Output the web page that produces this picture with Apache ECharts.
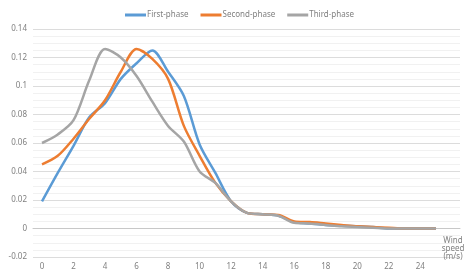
<!DOCTYPE html>
<html>
<head>
<meta charset="utf-8">
<script src="https://cdn.jsdelivr.net/npm/echarts@6/dist/echarts.min.js"></script>
<style>
  html, body { margin: 0; padding: 0; background: #fff; }
  #chart { width: 474px; height: 271px; }
</style>
</head>
<body>
<div id="chart"></div>
<script>
// wind speed (m/s) and the three phase curves
var speed = [0,1,2,3,4,5,6,7,8,9,10,11,12,13,14,15,16,17,18,19,20,21,22,23,24,25];
var firstPhase  = [0.019,0.039,0.058,0.078,0.088,0.105,0.116,0.125,0.110,0.093,0.059,0.039,0.019,0.011,0.010,0.009,0.0045,0.0035,0.0025,0.002,0.0015,0.001,0,0,0,0];
var secondPhase = [0.045,0.051,0.063,0.077,0.090,0.110,0.126,0.119,0.105,0.072,0.051,0.032,0.019,0.011,0.010,0.0095,0.005,0.0045,0.0035,0.0025,0.0015,0.001,0.0005,0,0,0];
var thirdPhase  = [0.060,0.066,0.076,0.104,0.126,0.120,0.107,0.089,0.072,0.061,0.040,0.032,0.019,0.011,0.010,0.009,0.004,0.0035,0.0025,0.0015,0.001,0.0005,0,0,0,0];
var xTicks = [0,2,4,6,8,10,12,14,16,18,20,22,24];

function pairs(ys) {
    var out = [];
    for (var i = 0; i < speed.length; ++i) {
        out.push([speed[i], ys[i]]);
    }
    return out;
}

var mychart = echarts.init(document.querySelector("#chart"), null, {renderer: 'canvas'});
var txt = '#808080';

var option = {
    backgroundColor: '#fff',
    animation: false,
    color: ['#5B9BD5', '#ED7D31', '#A5A5A5'],
    legend: {
        top: 6,
        left: 120,
        itemWidth: 21,
        itemHeight: 3,
        itemGap: 12,
        icon: 'rect',
        textStyle: { color: txt, fontSize: 8, fontFamily: 'Noto Sans', padding: [0, 0, 0, -4] },
        data: ['First-phase', 'Second-phase', 'Third-phase']
    },
    grid: {
        left: 33,
        right: 14,
        top: 29,
        bottom: 11,
        containLabel: false
    },
    xAxis: {
        type: 'value',
        min: -0.571,
        max: 26.52,
        name: 'Wind\nspeed\n(m/s)',
        nameLocation: 'end',
        nameGap: -7,
        nameTextStyle: {
            color: txt, fontSize: 8, fontFamily: 'Noto Sans',
            align: 'center', verticalAlign: 'top', lineHeight: 8, padding: [8, 0, 0, 0]
        },
        axisLine: { show: true, onZero: true, lineStyle: { color: '#c8c8c8', width: 1 } },
        axisTick: { show: false },
        splitLine: { show: false },
        axisLabel: {
            customValues: xTicks,
            color: txt, fontSize: 8, fontFamily: 'Noto Sans', margin: 6
        }
    },
    yAxis: {
        type: 'value',
        min: -0.02,
        max: 0.14,
        interval: 0.02,
        axisLine: { show: false },
        axisTick: { show: false },
        axisLabel: { color: txt, fontSize: 8, fontFamily: 'Noto Sans', margin: 6 },
        splitLine: { lineStyle: { color: '#dcdcdc', width: 1 } },
        minorTick: { show: false, splitNumber: 4 },
        minorSplitLine: { show: true, lineStyle: { color: '#f1f1f1', width: 1 } }
    },
    series: [
        { name: 'First-phase', type: 'line', smooth: 0.3, showSymbol: false, data: pairs(firstPhase), lineStyle: { width: 2.5 }, z: 3 },
        { name: 'Second-phase', type: 'line', smooth: 0.3, showSymbol: false, data: pairs(secondPhase), lineStyle: { width: 2.5 }, z: 4 },
        { name: 'Third-phase', type: 'line', smooth: 0.3, showSymbol: false, data: pairs(thirdPhase), lineStyle: { width: 2.5 }, z: 5 }
    ]
};

mychart.setOption(option);
</script>
</body>
</html>
